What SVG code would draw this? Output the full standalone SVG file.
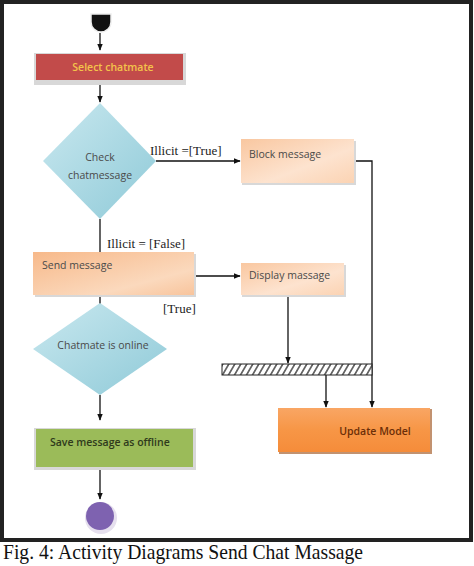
<svg xmlns="http://www.w3.org/2000/svg" width="474" height="566" viewBox="0 0 474 566">
<style>
.lbl{font-family:"Open Sans","Liberation Sans",sans-serif;font-size:10.5px;fill:#4a4a4a}
.guard{font-family:"Liberation Serif",serif;font-size:13px;fill:#222}
.ln{stroke:#111;stroke-width:1.3;fill:none}
.arr{stroke:#111;stroke-width:1.3;fill:none;marker-end:url(#ah)}
.shadow{fill:#d8d8d8}
</style>
<defs>
<marker id="ah" viewBox="0 0 10 10" refX="9" refY="5" markerWidth="7" markerHeight="7" orient="auto" markerUnits="userSpaceOnUse">
<path d="M0,1 L10,5 L0,9 z" fill="#111"/>
</marker>
<linearGradient id="gBlue" x1="0" y1="0" x2="1" y2="1">
<stop offset="0" stop-color="#c9e8ef"/>
<stop offset="1" stop-color="#8fcad8"/>
</linearGradient>
<linearGradient id="gPeach" x1="0" y1="0" x2="1" y2="1">
<stop offset="0" stop-color="#f9c7a0"/>
<stop offset="0.6" stop-color="#fde3cf"/>
<stop offset="1" stop-color="#fbd3b3"/>
</linearGradient>
<linearGradient id="gPeach2" x1="0" y1="0" x2="1" y2="1">
<stop offset="0" stop-color="#f7b98a"/>
<stop offset="0.7" stop-color="#fbd9bd"/>
<stop offset="1" stop-color="#f8c49c"/>
</linearGradient>
<linearGradient id="gOrange" x1="0" y1="0" x2="0" y2="1">
<stop offset="0" stop-color="#f9a664"/>
<stop offset="0.5" stop-color="#f79646"/>
<stop offset="1" stop-color="#f58c3a"/>
</linearGradient>
<pattern id="hatch" width="6" height="12" patternUnits="userSpaceOnUse" patternTransform="skewX(-30)">
<rect width="6" height="12" fill="#fff"/>
<line x1="1" y1="0" x2="1" y2="12" stroke="#222" stroke-width="1.4"/>
</pattern>
</defs>
<rect x="0" y="0" width="474" height="566" fill="#fff"/>
<rect x="2" y="2" width="469" height="538" fill="#fff" stroke="#222" stroke-width="4"/>

<g id="connectors">
<line class="arr" x1="100" y1="33" x2="100" y2="50"/>
<line class="arr" x1="100" y1="82" x2="100" y2="102"/>
<line class="arr" x1="156" y1="161" x2="240" y2="161"/>
<polyline class="ln" points="354,161 372,161 372,376"/>
<line class="arr" x1="372" y1="376" x2="372" y2="407"/>
<line class="ln" x1="100" y1="219" x2="100" y2="252"/>
<line class="arr" x1="100" y1="295" x2="100" y2="316"/>
<line class="arr" x1="194" y1="276" x2="240" y2="276"/>
<line class="arr" x1="288" y1="295" x2="288" y2="363"/>
<line class="arr" x1="326" y1="375" x2="326" y2="407"/>
<line class="arr" x1="100" y1="395" x2="100" y2="420"/>
<line class="arr" x1="100" y1="467" x2="100" y2="499"/>
<text class="guard" x="150" y="155">Illicit =[True]</text>
<text class="guard" x="107" y="248">Illicit = [False]</text>
<text class="guard" x="163" y="313">[True]</text>
</g>

<g id="start">
<path d="M91,14 L111,14 L111,22 A10,10 0 0 1 91,22 Z" fill="#111" stroke="#eee" stroke-width="1.5"/>
</g>

<g id="select-chatmate">
<rect class="shadow" x="34" y="53" width="152" height="32"/>
<rect x="36" y="54" width="147" height="26" fill="#c24b4a"/>
<text x="113" y="70.5" text-anchor="middle" font-family="'Open Sans','Liberation Sans',sans-serif" font-size="10.5" font-weight="600" fill="#f4c34a">Select chatmate</text>
</g>

<g id="check-chatmessage">
<polygon points="100,103 156,161 100,219 43,161" fill="url(#gBlue)"/>
<text class="lbl" x="100" y="161" text-anchor="middle">Check</text>
<text class="lbl" x="100" y="179" text-anchor="middle">chatmessage</text>
</g>

<g id="block-message">
<rect class="shadow" x="242" y="141" width="114" height="44"/>
<rect x="241" y="139" width="113" height="44" fill="url(#gPeach)"/>
<text class="lbl" x="249" y="158">Block message</text>
</g>

<g id="send-message">
<rect class="shadow" x="35" y="254" width="161" height="43"/>
<rect x="33" y="252" width="161" height="43" fill="url(#gPeach2)"/>
<text class="lbl" x="42" y="269">Send message</text>
</g>

<g id="display-massage">
<rect class="shadow" x="242" y="265" width="104" height="32"/>
<rect x="241" y="263" width="103" height="32" fill="url(#gPeach)"/>
<text class="lbl" x="249" y="279">Display massage</text>
</g>

<g id="sync-bar">
<rect x="222" y="364" width="150" height="11" fill="url(#hatch)" stroke="#222" stroke-width="1"/>
</g>

<g id="chatmate-online">
<polygon points="100,303 167,349 100,395 33,349" fill="url(#gBlue)"/>
<text class="lbl" x="103" y="349" text-anchor="middle">Chatmate is online</text>
</g>

<g id="update-model">
<rect x="279" y="409" width="153" height="45" fill="#9a4a10" opacity="0.6"/>
<rect x="278" y="408" width="152" height="44" fill="url(#gOrange)"/>
<text x="375" y="435" text-anchor="middle" font-family="'Open Sans','Liberation Sans',sans-serif" font-size="10.5" font-weight="600" fill="#6b2e08">Update Model</text>
</g>

<g id="save-offline">
<rect class="shadow" x="34" y="428" width="162" height="42"/>
<rect x="36" y="429" width="157" height="38" fill="#9bbb59"/>
<text class="lbl" x="50" y="446" style="fill:#2f3a1c;font-weight:600">Save message as offline</text>
</g>

<g id="end">
<circle cx="101" cy="518" r="16" fill="#e6e0ee"/>
<circle cx="100" cy="516" r="14" fill="#7e62b0"/>
</g>

<text x="3" y="559" font-family="'Liberation Serif',serif" font-size="22" fill="#111" textLength="360" lengthAdjust="spacingAndGlyphs">Fig. 4: Activity Diagrams Send Chat Massage</text>
</svg>
